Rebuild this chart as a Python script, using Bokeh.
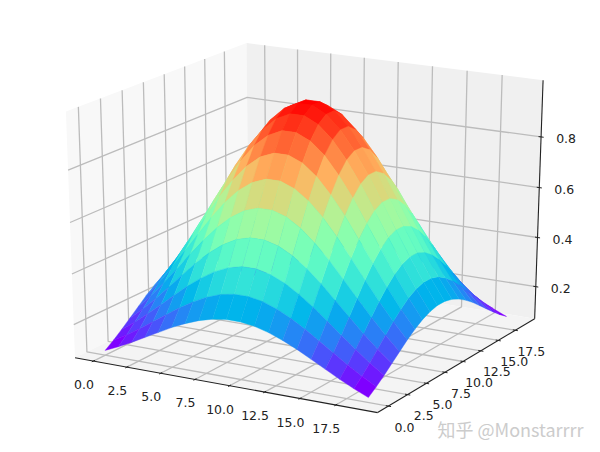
import numpy as np
from bokeh.plotting import figure
from bokeh.core.properties import value
from bokeh.embed import file_html
from bokeh.resources import INLINE

# Surface heights: one quadrant of a symmetric dome
z_quadrant = [
    [.087, .111, .138, .167, .196, .225, .250, .271, .286, .294],
    [.111, .142, .176, .213, .250, .287, .319, .346, .366, .376],
    [.138, .176, .219, .264, .311, .356, .396, .430, .454, .467],
    [.167, .213, .264, .319, .375, .430, .479, .519, .548, .563],
    [.196, .250, .311, .375, .441, .505, .562, .610, .644, .662],
    [.225, .287, .356, .430, .505, .579, .645, .699, .738, .759],
    [.250, .319, .396, .479, .562, .645, .717, .778, .822, .844],
    [.271, .346, .430, .519, .610, .699, .778, .845, .891, .916],
    [.286, .366, .454, .548, .644, .738, .822, .891, .941, .967],
    [.294, .376, .467, .563, .662, .759, .844, .916, .967, .994],
]
x_ticks = [0.0, 2.5, 5.0, 7.5, 10.0, 12.5, 15.0, 17.5]
y_ticks = [0.0, 2.5, 5.0, 7.5, 10.0, 12.5, 15.0, 17.5]
z_ticks = [0.2, 0.4, 0.6, 0.8]
x_lim = (-0.95, 19.95)
y_lim = (-0.95, 19.95)
z_lim = (0.087, 1.001)
watermark = "知乎 @Monstarrrr"

Q = np.array(z_quadrant)
top = np.hstack([Q, Q[:, ::-1]])
Z = np.vstack([top, top[::-1]])
n = Z.shape[0]
gx = np.arange(n, dtype=float)

# mplot3d style perspective camera
elev, azim, dist = np.radians(21), np.radians(-60.6), 10.0
R = np.array([.5, .5, .5])
N = np.array([np.cos(azim)*np.cos(elev), np.sin(azim)*np.cos(elev), np.sin(elev)])
E = R + dist*N
U = np.cross([0, 0, 1], N); U /= np.linalg.norm(U)
V = np.cross(N, U)
CX, SX, CY, SY = 308.5, 3299.0, 218.5, 2490.0


def project(x, y, z):
    p = np.stack([(np.asarray(x, float)-x_lim[0])/(x_lim[1]-x_lim[0]),
                  (np.asarray(y, float)-y_lim[0])/(y_lim[1]-y_lim[0]),
                  (np.asarray(z, float)-z_lim[0])/(z_lim[1]-z_lim[0])], -1) - E
    d = -(p @ N)
    X, Y = (p @ U)/d, (p @ V)/d
    return CX + SX*X, CY - SY*Y, d


def rainbow(t):
    r = np.clip(np.abs(2*t-.5), 0, 1)
    g = np.clip(np.sin(np.pi*t), 0, 1)
    b = np.clip(np.cos(np.pi*t/2), 0, 1)
    return "#%02x%02x%02x" % (int(r*255), int(g*255), int(b*255))


p = figure(width=592, height=444, x_range=(0, 592), y_range=(444, 0),
           output_backend="svg", toolbar_location=None, min_border=0)
p.axis.visible = False
p.grid.visible = False
p.outline_line_color = None
p.background_fill_color = "white"

dx = (x_lim[1]-x_lim[0])/48
dy = (y_lim[1]-y_lim[0])/48
dz = (z_lim[1]-z_lim[0])/48
x0, x1 = x_lim[0]-dx, x_lim[1]+dx
y0, y1 = y_lim[0]-dy, y_lim[1]+dy
z0, z1 = z_lim[0]-dz, z_lim[1]+dz


def poly(pts):
    a = np.array(pts, float)
    sx, sy, _ = project(a[:, 0], a[:, 1], a[:, 2])
    return list(sx), list(sy)


panes = [([(x0, y0, z0), (x0, y1, z0), (x0, y1, z1), (x0, y0, z1)], "#f8f8f8"),
         ([(x0, y1, z0), (x1, y1, z0), (x1, y1, z1), (x0, y1, z1)], "#f0f0f0"),
         ([(x0, y0, z0), (x1, y0, z0), (x1, y1, z0), (x0, y1, z0)], "#f4f4f4")]
for pts, c in panes:
    sx, sy = poly(pts)
    p.patch(sx, sy, fill_color=c, line_color=None)

gxs, gys = [], []
for t in x_ticks:
    sx, sy = poly([(t, y0, z0), (t, y1, z0), (t, y1, z1)])
    gxs.append(sx); gys.append(sy)
for t in y_ticks:
    sx, sy = poly([(x1, t, z0), (x0, t, z0), (x0, t, z1)])
    gxs.append(sx); gys.append(sy)
for t in z_ticks:
    sx, sy = poly([(x0, y0, t), (x0, y1, t), (x1, y1, t)])
    gxs.append(sx); gys.append(sy)
p.multi_line(gxs, gys, line_color="#bcbcbc", line_width=1.3)

# facets, far ones first
facets = []
cz = (Z[:-1, :-1]+Z[1:, :-1]+Z[:-1, 1:]+Z[1:, 1:])/4
lo, hi = cz.min(), cz.max()
for i in range(n-1):
    for j in range(n-1):
        xs = [gx[j], gx[j+1], gx[j+1], gx[j]]
        ys = [gx[i], gx[i], gx[i+1], gx[i+1]]
        zs = [Z[i, j], Z[i, j+1], Z[i+1, j+1], Z[i+1, j]]
        sx, sy, d = project(xs, ys, zs)
        facets.append((d.mean(), list(sx), list(sy), rainbow((cz[i, j]-lo)/(hi-lo))))
facets.sort(key=lambda f: -f[0])
cols = [f[3] for f in facets]
p.patches([f[1] for f in facets], [f[2] for f in facets], fill_color=cols, line_color=cols, line_width=0.4)

# axis lines and ticks
axes = [[(x0, y0, z0), (x1, y0, z0)], [(x1, y0, z0), (x1, y1, z0)], [(x1, y1, z0), (x1, y1, z1)]]
axs, ays = zip(*[poly(a) for a in axes])
p.multi_line(list(axs), list(ays), line_color="#222222", line_width=1.1)
txs, tys = [], []
ty = (y1-y0)/12*.1; tx = (x1-x0)/12*.1
for t in x_ticks:
    sx, sy = poly([(t, y0+ty, z0), (t, y0-ty, z0)]); txs.append(sx); tys.append(sy)
for t in y_ticks:
    sx, sy = poly([(x1-tx, t, z0), (x1+tx, t, z0)]); txs.append(sx); tys.append(sy)
for t in z_ticks:
    sx, sy = poly([(x1-tx, y1, t), (x1+tx, y1, t)]); txs.append(sx); tys.append(sy)
p.multi_line(txs, tys, line_color="#222222", line_width=1.0)

lx, ly, lt = [], [], []
for t in x_ticks:
    sx, sy, _ = project(t, y0, z0)
    lx.append(float(sx)-9.5); ly.append(float(sy)+23.5); lt.append(f"{t:.1f}")
for t in y_ticks:
    sx, sy, _ = project(x1, t, z0)
    lx.append(float(sx)+16); ly.append(float(sy)+21); lt.append(f"{t:.1f}")
for t in z_ticks:
    sx, sy, _ = project(x1, y1, t)
    lx.append(float(sx)+25); ly.append(float(sy)+2); lt.append(f"{t:.1f}")
p.text(lx, ly, text=lt, text_font=value("DejaVu Sans"), text_font_size="12.5px",
       text_color="#222222", text_align="center", text_baseline="middle")
p.text([437], [428], text=[watermark], text_font=value("Noto Sans CJK SC"), text_font_size="18px",
       text_color="#cccccc", text_align="left", text_baseline="middle")

open("out.html", "w").write(file_html(p, INLINE))
